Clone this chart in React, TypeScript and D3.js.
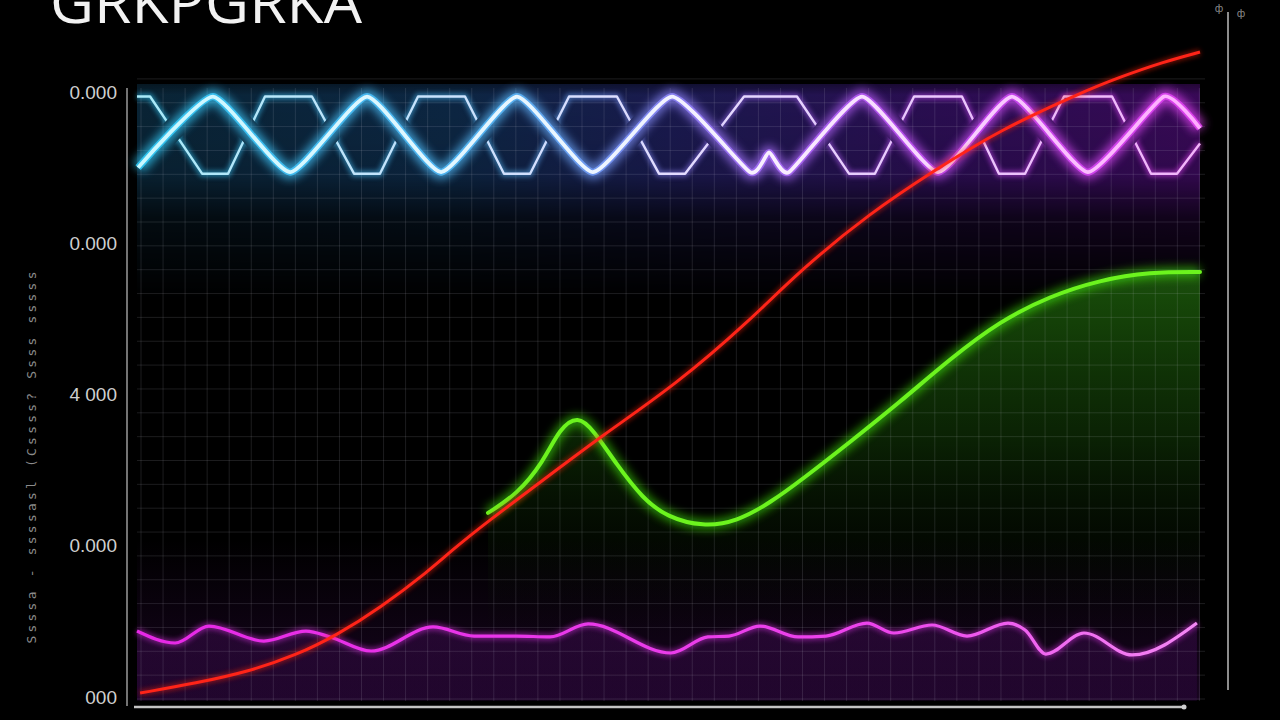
import React from "react";
import * as d3 from "d3";

const TITLE = "GRKPGRKA";
const Y_LABEL = "Ssssa - ssssasl (Cssss? Ssss sssss";
const Y_TICK_VALUES = [0, 1, 2, 3, 4];
const Y_TICK_LABELS = ["000", "0.000", "4 000", "0.000", "0.000"];
const CORNER_MARKS = ["ф", "ф"];

// main glowing zig-zag wave
const waveX = [0.05, 3.43, 6.91, 10.39, 13.73, 17.16, 20.59, 24.16, 27.68, 28.54, 29.44, 32.74, 36.17, 39.51, 42.94, 46.37, 48.0];
const waveY = [3.5, 3.97, 3.47, 3.97, 3.47, 3.97, 3.47, 3.97, 3.47, 3.6, 3.47, 3.97, 3.47, 3.97, 3.47, 3.97, 3.76];

// thin hexagonal companion wave
const hexX = [0, 0.59, 2.94, 4.11, 5.78, 7.9, 9.8, 10.97, 12.69, 14.81, 16.57, 17.75, 19.51, 21.67, 23.57, 24.75, 27.41, 29.8, 32.15, 33.32, 35.09, 37.25, 38.92, 40.1, 41.86, 44.03, 45.79, 46.96, 48.0];
const hexY = [3.97, 3.97, 3.46, 3.46, 3.97, 3.97, 3.46, 3.46, 3.97, 3.97, 3.46, 3.46, 3.97, 3.97, 3.46, 3.46, 3.97, 3.97, 3.46, 3.46, 3.97, 3.97, 3.46, 3.46, 3.97, 3.97, 3.46, 3.46, 3.66];

// green curve
const greenX = [15.85, 17.16, 18.33, 19.1, 19.91, 20.59, 21.67, 22.85, 23.93, 25.56, 27.09, 28.58, 30.07, 32.2, 34.45, 36.71, 38.97, 41.23, 43.48, 45.74, 48.0];
const greenY = [1.217, 1.34, 1.55, 1.78, 1.86, 1.77, 1.534, 1.31, 1.19, 1.125, 1.16, 1.283, 1.442, 1.686, 1.95, 2.235, 2.486, 2.651, 2.757, 2.81, 2.81];

// red rising curve
const redX = [0.14, 2.71, 4.97, 7.22, 9.03, 10.97, 13.23, 14.13, 15.8, 18.65, 20.91, 24.38, 27.68, 29.94, 33.1, 36.03, 38.97, 42.58, 44.39, 46.33, 48.0];
const redY = [0.026, 0.093, 0.165, 0.278, 0.41, 0.588, 0.84, 0.959, 1.157, 1.468, 1.719, 2.07, 2.49, 2.82, 3.2, 3.484, 3.749, 3.993, 4.099, 4.198, 4.264];

// magenta bottom wiggle
const magX = [0, 1.72, 3.25, 5.73, 7.63, 8.72, 10.57, 13.37, 15.22, 17.12, 18.65, 20.37, 24.11, 25.78, 26.73, 28.13, 29.85, 31.11, 32.96, 34.18, 35.9, 37.48, 39.33, 40.1, 41.04, 42.76, 44.93, 47.86];
const magY = [0.436, 0.357, 0.469, 0.37, 0.436, 0.397, 0.304, 0.463, 0.403, 0.403, 0.397, 0.483, 0.291, 0.397, 0.403, 0.469, 0.397, 0.403, 0.489, 0.423, 0.476, 0.403, 0.489, 0.443, 0.284, 0.423, 0.278, 0.489];

const W = 1280;
const H = 720;

type P = [number, number];
const zip = (xs: number[], ys: number[]): P[] => xs.map((x, i) => [x, ys[i]]);

export default function App() {
  const x = d3.scaleLinear().domain([0, 48]).range([137, 1200]);
  const y = d3.scaleLinear().domain([0, 4]).range([697, 92]);

  const lineMono = d3.line<P>().x((d) => x(d[0])).y((d) => y(d[1])).curve(d3.curveMonotoneX);
  const lineBasis = d3.line<P>().x((d) => x(d[0])).y((d) => y(d[1])).curve(d3.curveBasis);
  const lineWave = d3.line<P>().x((d) => x(d[0])).y((d) => y(d[1])).curve(d3.curveCardinal.tension(0.5));
  const lineLin = d3.line<P>().x((d) => x(d[0])).y((d) => y(d[1])).curve(d3.curveLinear);
  const areaOf = (curve: d3.CurveFactory) =>
    d3
      .area<P>()
      .x((d) => x(d[0]))
      .y0(y(0) + 4)
      .y1((d) => y(d[1]))
      .curve(curve);

  const wavePath = lineWave(zip(waveX, waveY)) || "";
  const hexPath = lineLin(zip(hexX, hexY)) || "";
  const greenPts = zip(greenX, greenY);
  const greenPath = lineBasis(greenPts) || "";
  const greenArea = areaOf(d3.curveBasis)(greenPts) || "";
  const redPath = lineBasis(zip(redX, redY)) || "";
  const magPts = zip(magX, magY);
  const magPath = lineMono(magPts) || "";
  const magArea = areaOf(d3.curveMonotoneX)(magPts) || "";

  const gridXs = d3.range(141, 1206, 22.05);
  const gridYs = d3.range(y(0) + 2, y(4) - 14, -23.85);

  const left = x(0);
  const right = x(48);

  return (
    <svg
      width={W}
      height={H}
      viewBox={`0 0 ${W} ${H}`}
      style={{ position: "absolute", left: 0, top: 0, background: "#000", display: "block" }}
    >
      <defs>
        <filter id="blur6" filterUnits="userSpaceOnUse" x="0" y="0" width={W} height={H}>
          <feGaussianBlur stdDeviation="5" />
        </filter>
        <filter id="blur3" filterUnits="userSpaceOnUse" x="0" y="0" width={W} height={H}>
          <feGaussianBlur stdDeviation="2.5" />
        </filter>
        <linearGradient id="bandH" gradientUnits="userSpaceOnUse" x1={left} x2={right} y1="0" y2="0">
          <stop offset="0" stopColor="#0a2638" />
          <stop offset="0.3" stopColor="#0d2846" />
          <stop offset="0.5" stopColor="#1b1b52" />
          <stop offset="0.75" stopColor="#2c0e55" />
          <stop offset="1" stopColor="#3a0a5a" />
        </linearGradient>
        <linearGradient id="bandV" gradientUnits="userSpaceOnUse" x1="0" x2="0" y1="84" y2="300">
          <stop offset="0" stopColor="#fff" stopOpacity="0.6" />
          <stop offset="0.05" stopColor="#fff" stopOpacity="0.95" />
          <stop offset="0.42" stopColor="#fff" stopOpacity="0.85" />
          <stop offset="0.62" stopColor="#fff" stopOpacity="0.3" />
          <stop offset="1" stopColor="#fff" stopOpacity="0" />
        </linearGradient>
        <mask id="bandMask" maskUnits="userSpaceOnUse" x="0" y="0" width={W} height={H}>
          <rect x="0" y="0" width={W} height={H} fill="url(#bandV)" />
        </mask>
        <mask id="hexGap" maskUnits="userSpaceOnUse" x="0" y="0" width={W} height={H}>
          <rect x="0" y="0" width={W} height={H} fill="#fff" />
          <path d={wavePath} fill="none" stroke="#000" strokeWidth="22" />
        </mask>
        <linearGradient id="waveGlow" gradientUnits="userSpaceOnUse" x1={left} x2={right} y1="0" y2="0">
          <stop offset="0" stopColor="#30c8f4" />
          <stop offset="0.35" stopColor="#58b4f4" />
          <stop offset="0.55" stopColor="#9a74f4" />
          <stop offset="0.75" stopColor="#c04cf0" />
          <stop offset="1" stopColor="#e040f0" />
        </linearGradient>
        <linearGradient id="waveCore" gradientUnits="userSpaceOnUse" x1={left} x2={right} y1="0" y2="0">
          <stop offset="0" stopColor="#c8f8ff" />
          <stop offset="0.4" stopColor="#eaf6ff" />
          <stop offset="0.6" stopColor="#f8eeff" />
          <stop offset="0.8" stopColor="#f8ccff" />
          <stop offset="1" stopColor="#ffaaff" />
        </linearGradient>
        <linearGradient id="hexCol" gradientUnits="userSpaceOnUse" x1={left} x2={right} y1="0" y2="0">
          <stop offset="0" stopColor="#a8eaf8" />
          <stop offset="0.5" stopColor="#e2dcff" />
          <stop offset="1" stopColor="#f2b4fa" />
        </linearGradient>
        <linearGradient id="greenFill" gradientUnits="userSpaceOnUse" x1="0" x2="0" y1="270" y2="650">
          <stop offset="0" stopColor="#3cc018" stopOpacity="0.42" />
          <stop offset="0.45" stopColor="#2a8a10" stopOpacity="0.24" />
          <stop offset="1" stopColor="#000" stopOpacity="0" />
        </linearGradient>
        <linearGradient id="magFill" gradientUnits="userSpaceOnUse" x1="0" x2="0" y1="620" y2="700">
          <stop offset="0" stopColor="#6a168a" stopOpacity="0.28" />
          <stop offset="1" stopColor="#400a5c" stopOpacity="0.22" />
        </linearGradient>
        <linearGradient id="bottomFill" gradientUnits="userSpaceOnUse" x1="0" x2="0" y1="540" y2="700">
          <stop offset="0" stopColor="#50106a" stopOpacity="0" />
          <stop offset="1" stopColor="#50106a" stopOpacity="0.3" />
        </linearGradient>
        <linearGradient id="magCol" gradientUnits="userSpaceOnUse" x1={left} x2={right} y1="0" y2="0">
          <stop offset="0" stopColor="#e628e6" />
          <stop offset="0.7" stopColor="#ec44ec" />
          <stop offset="1" stopColor="#f488f4" />
        </linearGradient>
      </defs>

      {/* background glows */}
      <rect x={left} y={84} width={right - left} height={220} fill="url(#bandH)" mask="url(#bandMask)" />
      <rect x={left} y={540} width={right - left} height={160} fill="url(#bottomFill)" />
      <path d={greenArea} fill="url(#greenFill)" />
      <path d={magArea} fill="url(#magFill)" />

      {/* grid */}
      <g stroke="#c8c8d8" strokeOpacity="0.14" strokeWidth="1">
        {gridXs.map((gx, i) => (
          <line key={"gx" + i} x1={gx} x2={gx} y1={y(4) - 4} y2={y(0) + 4} />
        ))}
        {gridYs.map((gy, i) => (
          <line key={"gy" + i} x1={left} x2={right + 5} y1={gy} y2={gy} />
        ))}
      </g>

      {/* thin hexagon wave */}
      <g mask="url(#hexGap)">
        <path d={hexPath} fill="none" stroke="url(#waveGlow)" strokeWidth="6" opacity="0.55" filter="url(#blur3)" />
        <path d={hexPath} fill="none" stroke="url(#hexCol)" strokeWidth="2.4" strokeLinejoin="round" />
      </g>

      {/* main wave */}
      <path d={wavePath} fill="none" stroke="url(#waveGlow)" strokeWidth="14" opacity="0.75" filter="url(#blur6)" />
      <path d={wavePath} fill="none" stroke="url(#waveGlow)" strokeWidth="7" opacity="0.9" />
      <path d={wavePath} fill="none" stroke="url(#waveCore)" strokeWidth="3.8" />

      {/* magenta */}
      <path d={magPath} fill="none" stroke="#e030e8" strokeWidth="7" opacity="0.45" filter="url(#blur3)" />
      <path d={magPath} fill="none" stroke="url(#magCol)" strokeWidth="3.2" />

      {/* green */}
      <path d={greenPath} fill="none" stroke="#48ff10" strokeWidth="10" opacity="0.55" filter="url(#blur6)" />
      <path d={greenPath} fill="none" stroke="#6cf41e" strokeWidth="4" strokeLinecap="round" />

      {/* red */}
      <path d={redPath} fill="none" stroke="#ff2010" strokeWidth="6" opacity="0.45" filter="url(#blur3)" />
      <path d={redPath} fill="none" stroke="#ff2418" strokeWidth="3" />

      {/* axes */}
      <line x1={127} x2={127} y1={y(4) - 4} y2={y(0) + 9} stroke="#9a9a9a" strokeWidth="1.5" />
      <line x1={134} x2={1184} y1={707} y2={707} stroke="#c4c4c4" strokeWidth="2.5" />
      <circle cx={1184} cy={707} r={2.5} fill="#d0d0d0" />
      <line x1={1228} x2={1228} y1={12} y2={690} stroke="#bdbdbd" strokeWidth="1.5" />

      {Y_TICK_VALUES.map((v, i) => (
        <text
          key={"yt" + i}
          x={117}
          y={y(v)}
          textAnchor="end"
          dominantBaseline="central"
          fontFamily="'Liberation Sans', Arial, sans-serif"
          fontSize="19"
          fill="#cfcfcf"
        >
          {Y_TICK_LABELS[i]}
        </text>
      ))}

      <text
        transform={`translate(31, ${(y(0) + y(4)) / 2 + 63}) rotate(-90)`}
        textAnchor="middle"
        dominantBaseline="central"
        fontFamily="'DejaVu Sans Mono', monospace"
        fontSize="13"
        fill="#8c8c8c"
        textLength="372"
        lengthAdjust="spacing"
      >
        {Y_LABEL}
      </text>

      <text
        x={50}
        y={23}
        fontFamily="'Open Sans', 'DejaVu Sans', sans-serif"
        fontSize="56"
        fill="#f2f2f2"
        textLength="312"
        lengthAdjust="spacingAndGlyphs"
      >
        {TITLE}
      </text>

      <text x={1219} y={12} textAnchor="middle" fontSize="10" fontFamily="'DejaVu Sans', sans-serif" fill="#8a8a8a">
        {CORNER_MARKS[0]}
      </text>
      <text x={1241} y={17} textAnchor="middle" fontSize="10" fontFamily="'DejaVu Sans', sans-serif" fill="#8a8a8a">
        {CORNER_MARKS[1]}
      </text>
    </svg>
  );
}
